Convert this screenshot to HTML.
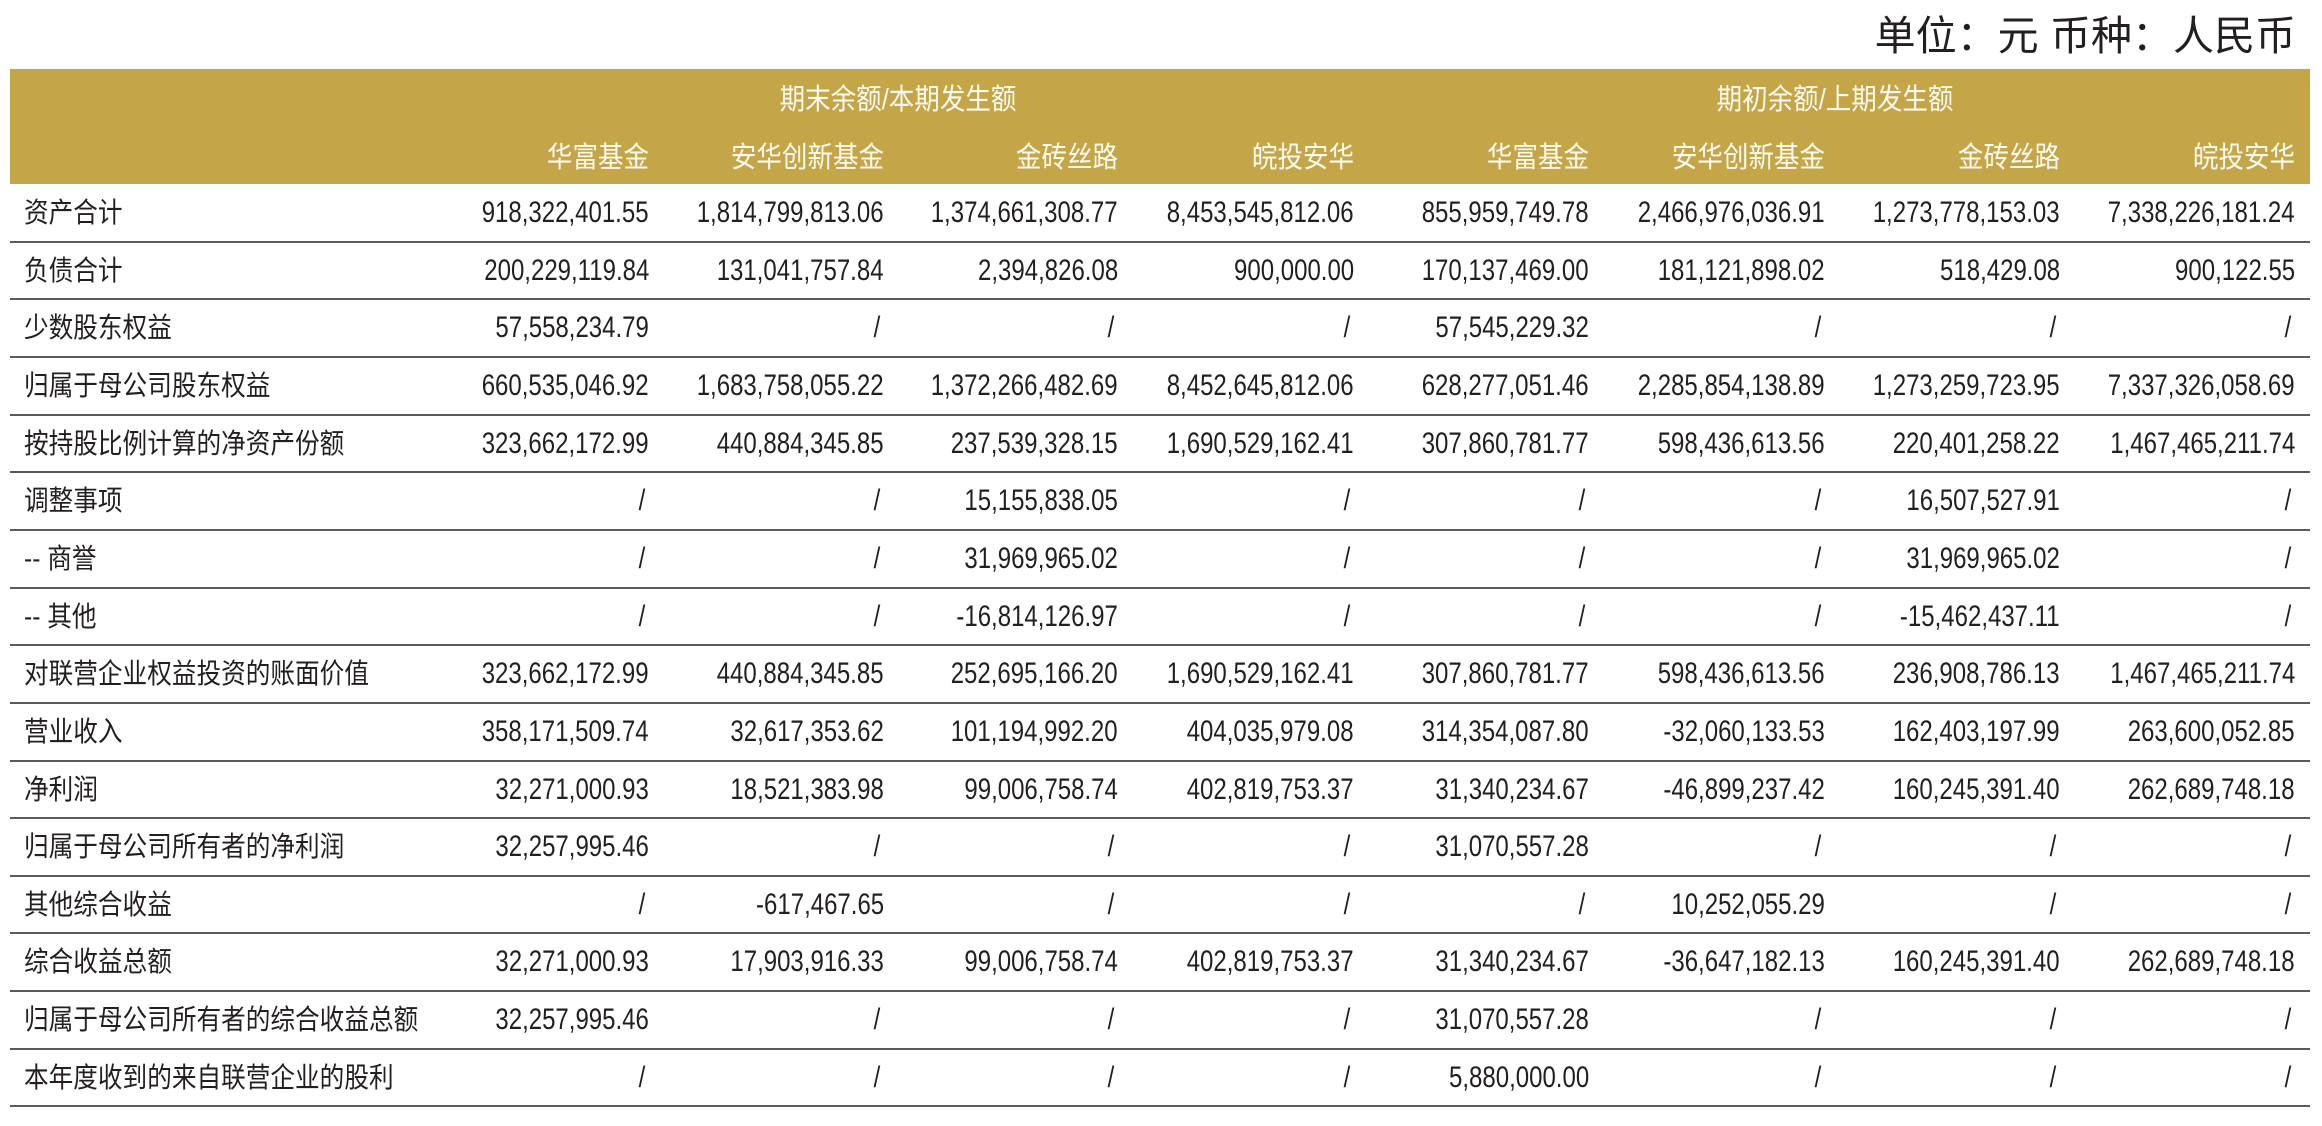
<!DOCTYPE html>
<html><head><meta charset="utf-8">
<style>
html,body{margin:0;padding:0;background:#fff;}
body{width:2322px;height:1126px;position:relative;overflow:hidden;font-family:"Liberation Sans","Noto Sans CJK SC",sans-serif;color:#231f20;}
.abs{position:absolute;white-space:nowrap;}
#title{right:26px;top:8px;font-family:"Liberation Sans","Noto Sans CJK SC",sans-serif;font-size:41px;color:#231f20;line-height:56px;}
#hdr{left:10px;top:69px;width:2300px;height:115px;background:#c4a548;}
.grp{top:78px;height:44px;line-height:44px;font-size:29px;color:#fffbf0;transform:translateX(-50%) scaleX(0.88);}
.colh{top:136px;height:44px;line-height:44px;font-size:29px;color:#fffbf0;transform-origin:100% 50%;transform:scaleX(0.88);}
.lbl{left:24px;font-size:28px;line-height:58px;transform-origin:0 50%;transform:scaleX(0.88);}
.num{font-size:30px;line-height:58px;transform-origin:100% 50%;transform:scaleX(0.8);}
.line{left:10px;width:2300px;height:2px;background:#5a5a5a;}
</style></head><body>
<div id="title" class="abs">单位：元 币种：人民币</div>
<div id="hdr" class="abs"></div>
<div class="abs grp" style="left:898px">期末余额/本期发生额</div>
<div class="abs grp" style="left:1835px">期初余额/上期发生额</div>
<div id="table"></div>
<script>
const companies = ["华富基金","安华创新基金","金砖丝路","皖投安华","华富基金","安华创新基金","金砖丝路","皖投安华"];
const rowLabels = ["资产合计","负债合计","少数股东权益","归属于母公司股东权益","按持股比例计算的净资产份额","调整事项","-- 商誉","-- 其他","对联营企业权益投资的账面价值","营业收入","净利润","归属于母公司所有者的净利润","其他综合收益","综合收益总额","归属于母公司所有者的综合收益总额","本年度收到的来自联营企业的股利"];
const values = [
["918,322,401.55","1,814,799,813.06","1,374,661,308.77","8,453,545,812.06","855,959,749.78","2,466,976,036.91","1,273,778,153.03","7,338,226,181.24"],
["200,229,119.84","131,041,757.84","2,394,826.08","900,000.00","170,137,469.00","181,121,898.02","518,429.08","900,122.55"],
["57,558,234.79","/","/","/","57,545,229.32","/","/","/"],
["660,535,046.92","1,683,758,055.22","1,372,266,482.69","8,452,645,812.06","628,277,051.46","2,285,854,138.89","1,273,259,723.95","7,337,326,058.69"],
["323,662,172.99","440,884,345.85","237,539,328.15","1,690,529,162.41","307,860,781.77","598,436,613.56","220,401,258.22","1,467,465,211.74"],
["/","/","15,155,838.05","/","/","/","16,507,527.91","/"],
["/","/","31,969,965.02","/","/","/","31,969,965.02","/"],
["/","/","-16,814,126.97","/","/","/","-15,462,437.11","/"],
["323,662,172.99","440,884,345.85","252,695,166.20","1,690,529,162.41","307,860,781.77","598,436,613.56","236,908,786.13","1,467,465,211.74"],
["358,171,509.74","32,617,353.62","101,194,992.20","404,035,979.08","314,354,087.80","-32,060,133.53","162,403,197.99","263,600,052.85"],
["32,271,000.93","18,521,383.98","99,006,758.74","402,819,753.37","31,340,234.67","-46,899,237.42","160,245,391.40","262,689,748.18"],
["32,257,995.46","/","/","/","31,070,557.28","/","/","/"],
["/","-617,467.65","/","/","/","10,252,055.29","/","/"],
["32,271,000.93","17,903,916.33","99,006,758.74","402,819,753.37","31,340,234.67","-36,647,182.13","160,245,391.40","262,689,748.18"],
["32,257,995.46","/","/","/","31,070,557.28","/","/","/"],
["/","/","/","/","5,880,000.00","/","/","/"]
];
const colRight = [649,884,1118,1354,1589,1825,2060,2295];
const top0 = 184, rowH = 57.65;
const t = document.getElementById('table');
companies.forEach((c,i)=>{
  const d=document.createElement('div');
  d.className='abs colh';
  d.style.right=(2322-colRight[i])+'px';
  d.textContent=c;
  
  
  t.appendChild(d);
});
rowLabels.forEach((lab,r)=>{
  const y=top0+r*rowH;
  const l=document.createElement('div');
  l.className='abs lbl';
  l.style.top=y+'px';
  l.textContent=lab;
  
  
  t.appendChild(l);
  values[r].forEach((v,c)=>{
    const n=document.createElement('div');
    n.className='abs num';
    n.style.top=y+'px';
    n.style.right=(2322-colRight[c]+(v==='/'?4:0))+'px';
    n.textContent=v;
    
    
    t.appendChild(n);
  });
  const ln=document.createElement('div');
  ln.className='abs line';
  ln.style.top=(y+rowH-1)+'px';
  
  
  t.appendChild(ln);
});
</script>
</body></html>
